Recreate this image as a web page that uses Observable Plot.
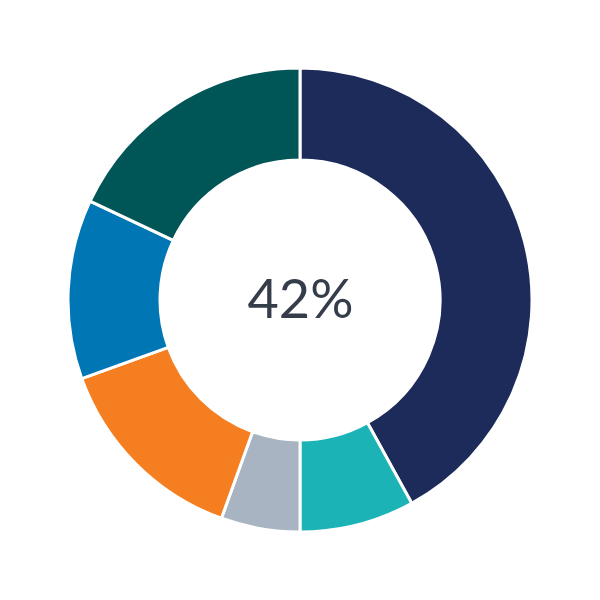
<!DOCTYPE html>
<html>
<head>
<meta charset="utf-8">
<script src="https://cdn.jsdelivr.net/npm/d3@7"></script>
<script src="https://cdn.jsdelivr.net/npm/@observablehq/plot@0.6"></script>
<style>
  html, body { margin: 0; padding: 0; background: #fff; }
</style>
</head>
<body>
<div id="chart"></div>
<script>
const categories = ["A", "B", "C", "D", "E", "F"];
const values = [42, 8, 5.5, 14, 12.5, 18];
const colors = ["#1c2b5a", "#1bb3b6", "#a8b4c2", "#f47e20", "#0076b4", "#005556"];
const centerLabel = "42%";

const data = categories.map((c, i) => ({category: c, value: values[i]}));

function donut(data, {inner = 0.6, stroke = "white", strokeWidth = 3} = {}) {
  return (index, scales, channels, dimensions, context) => {
    const cx = scales.x(0), cy = scales.y(0);
    const r = Math.abs(scales.x(1) - scales.x(0));
    const pie = d3.pie().sort(null).value(d => d.value)(data);
    const arc = d3.arc().innerRadius(r * inner).outerRadius(r);
    const g = d3.create("svg:g").attr("transform", `translate(${cx},${cy})`);
    g.selectAll("path").data(pie).join("path")
      .attr("d", arc)
      .attr("fill", d => scales.color(d.data.category))
      .attr("stroke", stroke)
      .attr("stroke-width", strokeWidth)
      .attr("stroke-linejoin", "miter");
    return g.node();
  };
}

const chart = Plot.plot({
  width: 600,
  height: 600,
  margin: 0,
  x: {domain: [-300/232, 300/232], axis: null},
  y: {domain: [-300/232, 300/232], axis: null},
  color: {domain: categories, range: colors},
  marks: [
    donut(data, {inner: 140/232}),
    Plot.text([centerLabel], {
      x: 0, y: 0, text: d => d,
      fontSize: 54, fontWeight: 400, fill: "#363d4a",
      fontFamily: "Lato, 'Open Sans', sans-serif",
      textAnchor: "middle"
    })
  ]
});
document.getElementById("chart").appendChild(chart);
</script>
</body>
</html>
